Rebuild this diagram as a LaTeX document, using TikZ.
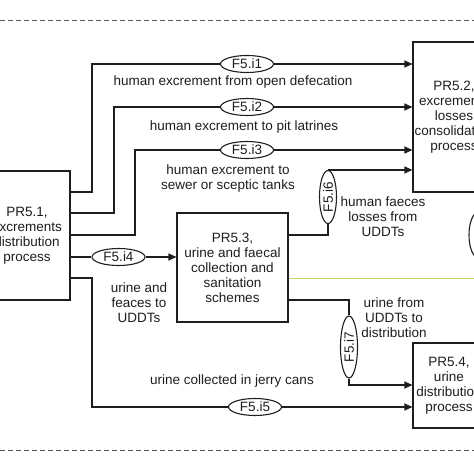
\documentclass[tikz,border=0pt]{standalone}
\usepackage{fontspec}
\setmainfont{Liberation Sans}
\usetikzlibrary{arrows.meta,shapes.geometric}
\definecolor{ink}{HTML}{1E1E1E}
\definecolor{dashgray}{HTML}{555555}
\definecolor{yellowgreen}{HTML}{C4D86A}
\begin{document}
\begin{tikzpicture}[x=1pt,y=-1pt,
  every node/.style={font=\fontsize{13.5}{15}\selectfont, inner sep=0pt, text=ink},
  proc/.style={draw=ink, line width=1.1pt, fill=white, align=center},
  flowtag/.style={draw=ink, line width=1.1pt, fill=white, ellipse, minimum width=53pt, minimum height=17pt},
  flow/.style={draw=ink, line width=1.1pt, -{Triangle[length=8pt,width=7pt]}},
  seg/.style={draw=ink, line width=1.1pt},
  lbl/.style={align=center},
  sep/.style={draw=dashgray, line width=0.9pt, dash pattern=on 5pt off 3pt}]
\useasboundingbox (0,0) rectangle (474,474);
\fill[white] (0,0) rectangle (474,474);
\clip (0,0) rectangle (474,474);

% separators
\draw[sep] (0,20.5) -- (474,20.5);
\draw[sep] (0,450) -- (474,450);

% process boxes
\node[proc, minimum width=86pt, minimum height=129pt] (p1) at (27,235.5) {PR5.1,\\excrements\\distribution\\process};
\node[proc, minimum width=82pt, minimum height=150pt] (p2) at (454,117) {PR5.2,\\excrements\\losses\\consolidation\\process};
\node[proc, minimum width=111pt, minimum height=109pt] (p3) at (232.5,267.5) {PR5.3,\\urine and faecal\\collection and\\sanitation\\schemes};
\node[proc, minimum width=72pt, minimum height=85pt] (p4) at (449,385.5) {PR5.4,\\urine\\distribution\\process};

% flow tags
\node[flowtag] (f1) at (247,64) {F5.i1};
\node[flowtag] (f2) at (247,107) {F5.i2};
\node[flowtag] (f3) at (247,150) {F5.i3};
\node[flowtag] (f4) at (118.5,257) {F5.i4};
\node[flowtag] (f5) at (255,407) {F5.i5};
\node[flowtag, rotate=90] (f6) at (328,197) {F5.i6};
\node[flowtag, rotate=90, minimum width=62pt] (f7) at (349,347) {F5.i7};
\node[flowtag, rotate=90, minimum width=45pt, minimum height=18pt] (fx) at (478,235) {};

% connectors
\draw[seg] (p1.east |- 0,192) -| (92,64) -- (f1.west);
\draw[flow] (f1.east) -- (p2.west |- f1.east);
\draw[seg] (p1.east |- 0,213) -| (114,107) -- (f2.west);
\draw[flow] (f2.east) -- (p2.west |- f2.east);
\draw[seg] (p1.east |- 0,235) -| (135,150) -- (f3.west);
\draw[flow] (f3.east) -- (p2.west |- f3.east);
\draw[seg] (p1.east |- f4.west) -- (f4.west);
\draw[flow] (f4.east) -- (p3.west |- f4.east);
\draw[seg] (p1.east |- 0,278) -| (92,407) -- (f5.west);
\draw[flow] (f5.east) -- (p4.west |- f5.east);
\draw[seg] (p3.east |- 0,235) -| (f6.west);
\draw[flow] (f6.east) -- (p2.west |- f6.east);
\draw[seg] (p3.east |- 0,300) -| (f7.east);
\draw[flow] (f7.west) |- (p4.west |- 0,385);

% thin coloured line
\draw[yellowgreen, line width=0.8pt] (p3.east |- 0,278) -- (474,278);

% labels
\node[lbl] (l1) at (233,82) {human excrement from open defecation};
\node[lbl] (l2) at (244,127) {human excrement to pit latrines};
\node[lbl] (l3) at (228,178.5) {human excrement to\\sewer or sceptic tanks};
\node[lbl] (l4) at (139,302.5) {urine and\\feaces to\\UDDTs};
\node[lbl] (l5) at (232,381) {urine collected in jerry cans};
\node[lbl] (l6) at (383,217) {human faeces\\losses from\\UDDTs};
\node[lbl] (l7) at (394,317.5) {urine from\\UDDTs to\\distribution};
\end{tikzpicture}
\end{document}
